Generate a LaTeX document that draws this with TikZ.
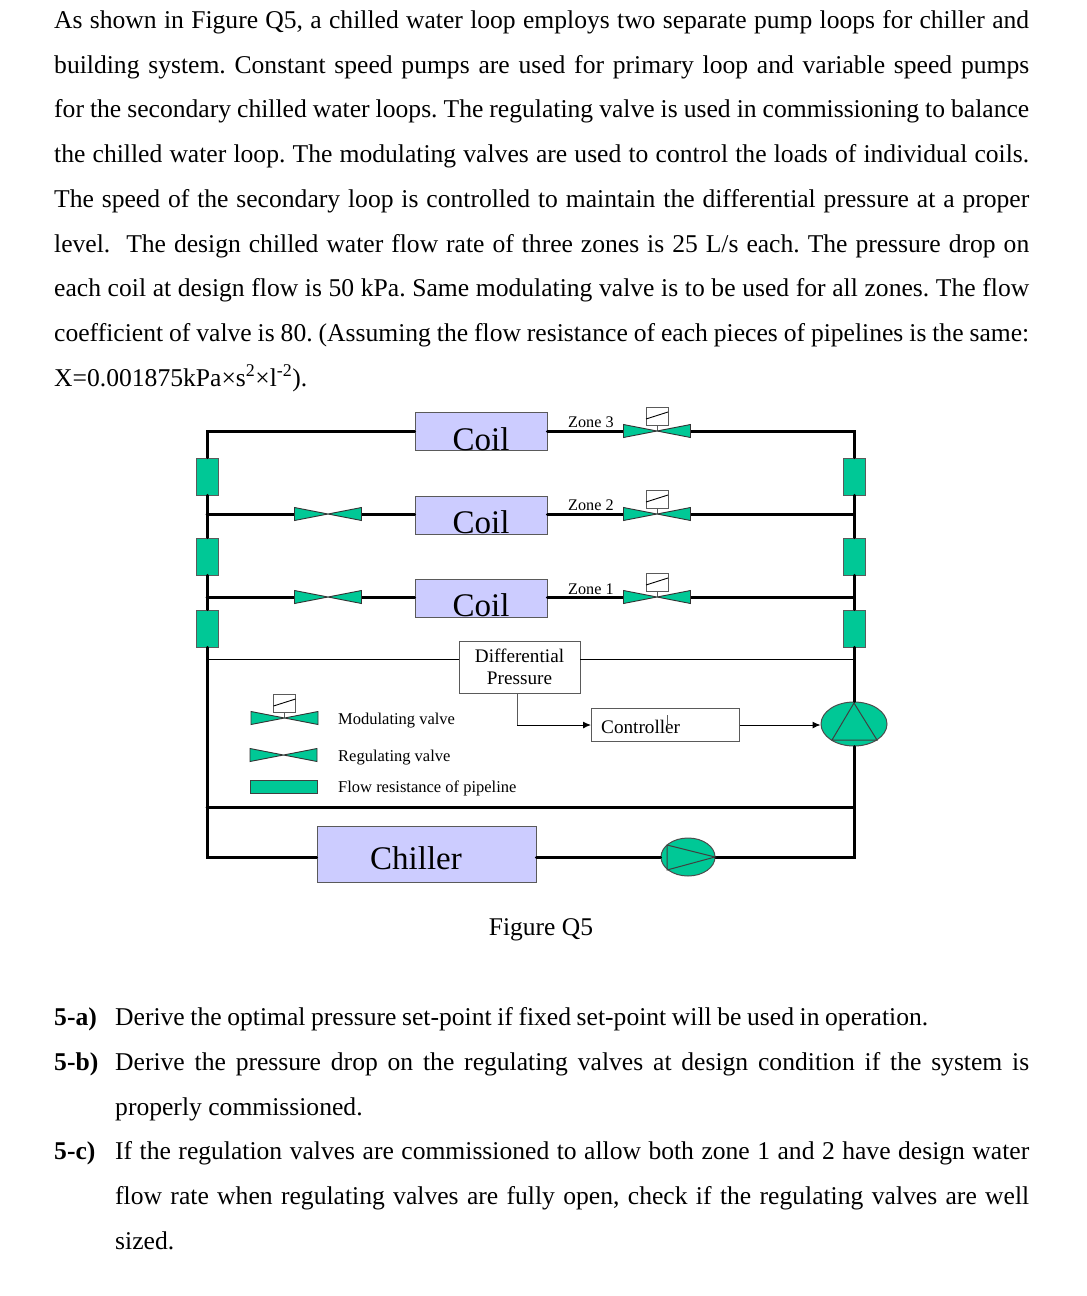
\documentclass[tikz,border=0pt]{standalone}
\usepackage{fontspec}
\setmainfont{Liberation Serif}
\usetikzlibrary{arrows.meta,shapes.geometric}
\definecolor{valvegreen}{HTML}{00C896}
\definecolor{coilblue}{HTML}{CCCCFF}
\definecolor{edgegray}{HTML}{5A5A5A}
\newcommand{\jline}[1]{\makebox[975pt][s]{\frenchspacing\spaceskip=0.25em plus 1fil minus 0.1em\relax #1}}
\newcommand{\jlineb}[1]{\makebox[914pt][s]{\frenchspacing\spaceskip=0.25em plus 1fil minus 0.1em\relax #1}}
\newcommand{\squeezeb}[1]{\makebox[813pt][s]{\frenchspacing\spaceskip=0.25em plus 1fil minus 0.1em\relax #1}}
\tikzset{
  x=1pt, y=-1pt,
  body/.style={anchor=base west, inner sep=0pt, font=\fontsize{25.6}{30}\selectfont},
  small/.style={inner sep=0pt, font=\fontsize{16.5}{18}\selectfont},
  zonelabel/.style={inner sep=0pt, anchor=west, font=\fontsize{16.2}{18}\selectfont},
  big/.style={inner sep=0pt, font=\fontsize{33}{36}\selectfont, anchor=base},
  pipe/.style={line width=3pt, black, line cap=round},
  thin pipe/.style={line width=1pt, black},
  signal/.style={line width=1pt, black, -{Latex[length=8pt,width=7pt]}},
  coilbox/.style={draw=edgegray, line width=0.9pt, fill=coilblue, minimum width=132pt, minimum height=38pt, inner sep=0pt},
  resist/.style={draw=edgegray, line width=0.9pt, fill=valvegreen, minimum width=22pt, minimum height=37pt, inner sep=0pt},
  whitebox/.style={draw=edgegray, line width=0.9pt, fill=white, inner sep=0pt, font=\fontsize{19.2}{21.5}\selectfont, align=center},
  valvespot/.style={minimum width=67pt, minimum height=14pt, inner sep=0pt},
  greenshape/.style={draw=black!80, line width=0.9pt, fill=valvegreen},
  actuator/.style={draw=edgegray, line width=0.9pt, fill=white},
  regvalve/.pic={
    \draw[greenshape] (-33.5,-6.5) -- (33.5,6.5) -- (33.5,-6.5) -- (-33.5,6.5) -- cycle;
  },
  modvalve/.pic={
    \draw[line width=1pt, edgegray] (0,0) -- (0,-7);
    \draw[actuator] (-11,-24) rectangle (11,-6);
    \draw[line width=0.9pt, black] (-11,-12) -- (11,-19);
    \draw[greenshape] (-33.5,-6.5) -- (33.5,6.5) -- (33.5,-6.5) -- (-33.5,6.5) -- cycle;
  }
}
\begin{document}
\begin{tikzpicture}
\useasboundingbox (0,0) rectangle (1087,1296);
% paragraph
\node[body] (l1) at (54,28) {\jline{As shown in Figure Q5, a chilled water loop employs two separate pump loops for chiller and}};
\node[body] (l2) at (54,73) {\jline{building system. Constant speed pumps are used for primary loop and variable speed pumps}};
\node[body] (l3) at (54,117) {\jline{for the secondary chilled water loops. The regulating valve is used in commissioning to balance}};
\node[body] (l4) at (54,162) {\jline{the chilled water loop. The modulating valves are used to control the loads of individual coils.}};
\node[body] (l5) at (54,207) {\jline{The speed of the secondary loop is controlled to maintain the differential pressure at a proper}};
\node[body] (l6) at (54,252) {\jline{level.\ \ The design chilled water flow rate of three zones is 25 L/s each. The pressure drop on}};
\node[body] (l7) at (54,296) {\jline{each coil at design flow is 50 kPa. Same modulating valve is to be used for all zones. The flow}};
\node[body] (l8) at (54,341) {\jline{coefficient of valve is 80. (Assuming the flow resistance of each pieces of pipelines is the same:}};
\node[body] (l9) at (54,386) {X=0.001875kPa×s\textsuperscript{2}×l\textsuperscript{-2}).};
% junctions
\coordinate (tl) at (207,431);
\coordinate (tr) at (854,431);
\coordinate (ml) at (207,514);
\coordinate (mr) at (854,514);
\coordinate (nl) at (207,597);
\coordinate (nr) at (854,597);
\coordinate (dl) at (207,659);
\coordinate (dr) at (854,659);
\coordinate (hl) at (207,807);
\coordinate (hr) at (854,807);
\coordinate (bl) at (207,857);
\coordinate (br) at (854,857);
\coordinate (dpdrop) at (517,725);
% coils
\node[coilbox] (coil3) at (481,431.5) {};
\node[coilbox] (coil2) at (481,515) {};
\node[coilbox] (coil1) at (481,598) {};
\node[big] (coil3t) at (481,450.5) {Coil};
\node[big] (coil2t) at (481,533.5) {Coil};
\node[big] (coil1t) at (481,616.5) {Coil};
% resistances
\node[resist] (rl3) at (207,476.5) {};
\node[resist] (rl2) at (207,556.5) {};
\node[resist] (rl1) at (207,628.5) {};
\node[resist] (rr3) at (854,476.5) {};
\node[resist] (rr2) at (854,556.5) {};
\node[resist] (rr1) at (854,628.5) {};
% valves
\node[valvespot] (mv3) at (657,431) {};
\node[valvespot] (mv2) at (657,514) {};
\node[valvespot] (mv1) at (657,597) {};
\node[valvespot] (rv2) at (328,514) {};
\node[valvespot] (rv1) at (328,597) {};
% other units
\node[whitebox, minimum width=121pt, minimum height=52pt] (dp) at (519.5,667) {Differential\\Pressure};
\node[whitebox, minimum width=148pt, minimum height=33pt, anchor=west] (ctrl) at (591,725) {};
\node[inner sep=0pt, anchor=west, font=\fontsize{19.2}{21.5}\selectfont] (ctrlt) at (601,727) {Controller};
\draw[line width=1pt, edgegray] (667.5,715) -- (667.5,733);
\node[draw=black!70, line width=1pt, fill=valvegreen, ellipse, minimum width=66pt, minimum height=44pt, inner sep=0pt] (secpump) at (854,724) {};
\node[draw=edgegray, line width=0.9pt, fill=coilblue, minimum width=219pt, minimum height=56pt, inner sep=0pt] (chiller) at (426.5,854) {};
\node[big] (chillert) at (416,869) {Chiller};
\node[draw=black!70, line width=1pt, fill=valvegreen, ellipse, minimum width=54pt, minimum height=38pt, inner sep=0pt] (primpump) at (688,857) {};
% pipes
\draw[pipe] (ml) -- (rv2.west);
\draw[pipe] (rv2.east) -- (coil2.west |- rv2.east);
\draw[pipe] (nl) -- (rv1.west);
\draw[pipe] (rv1.east) -- (coil1.west |- rv1.east);
\draw[pipe] (rl3.north) -- (tl) -- (coil3.west |- tl);
\draw[pipe] (coil3.east |- tl) -- (mv3.west);
\draw[pipe] (mv3.east) -- (tr) -- (rr3.north);
\draw[pipe] (coil2.east |- mv2) -- (mv2.west);
\draw[pipe] (mv2.east) -- (mr);
\draw[pipe] (coil1.east |- mv1) -- (mv1.west);
\draw[pipe] (mv1.east) -- (nr);
\draw[pipe] (rl3.south) -- (rl2.north);
\draw[pipe] (rl2.south) -- (rl1.north);
\draw[pipe] (rr3.south) -- (rr2.north);
\draw[pipe] (rr2.south) -- (rr1.north);
\draw[pipe] (rl1.south) -- (bl) -- (chiller.west |- bl);
\draw[pipe] (chiller.east |- bl) -- (primpump.west);
\draw[pipe] (primpump.east) -- (br) -- (secpump.south);
\draw[pipe] (secpump.north) -- (rr1.south);
\draw[pipe] (hl) -- (hr);
\draw[thin pipe] (dl) -- (dp.west |- dl);
\draw[thin pipe] (dp.east |- dr) -- (dr);
\draw[line width=1pt, edgegray] (dp.south -| dpdrop) -- (dpdrop);
\draw[signal] (dpdrop) -- (ctrl.west);
\draw[signal] (ctrl.east) -- (ctrl.east -| secpump.west);
% pump triangles
\draw[line width=1pt, black!75] (854,703) -- (832,740) -- (877,740) -- cycle;
\draw[line width=1pt, black!75] (667,845) -- (715,857) -- (667,870) -- cycle;
% valve symbols
\pic at (rv2) {regvalve};
\pic at (rv1) {regvalve};
\pic at (mv3) {modvalve};
\pic at (mv2) {modvalve};
\pic at (mv1) {modvalve};
% zone labels
\node[zonelabel] (z3) at (568,422) {Zone 3};
\node[zonelabel] (z2) at (568,505) {Zone 2};
\node[zonelabel] (z1) at (568,589) {Zone 1};
% legend
\coordinate (legm) at (284.5,718);
\coordinate (legr) at (283.5,755);
\pic at (legm) {modvalve};
\pic at (legr) {regvalve};
\node[draw=black!75, line width=0.9pt, fill=valvegreen, minimum width=67pt, minimum height=13pt, inner sep=0pt] (legf) at (283.5,786.5) {};
\node[small, anchor=west] (legmt) at (338,720.5) {Modulating valve};
\node[small, anchor=west] (legrt) at (338,757.5) {Regulating valve};
\node[small, anchor=west] (legft) at (338,788.5) {Flow resistance of pipeline};
% caption
\node[inner sep=0pt, font=\fontsize{25.5}{30}\selectfont] (cap) at (541,930) {Figure Q5};
% questions
\node[body, font=\fontsize{25.6}{30}\bfseries\selectfont] (qa) at (54,1025) {5-a)};
\node[body] (qat) at (115,1025) {\squeezeb{Derive the optimal pressure set-point if fixed set-point will be used in operation.}};
\node[body, font=\fontsize{25.6}{30}\bfseries\selectfont] (qb) at (54,1070) {5-b)};
\node[body] (qbt) at (115,1070) {\jlineb{Derive the pressure drop on the regulating valves at design condition if the system is}};
\node[body] (qbu) at (115,1115) {properly commissioned.};
\node[body, font=\fontsize{25.6}{30}\bfseries\selectfont] (qc) at (54,1159) {5-c)};
\node[body] (qct) at (115,1159) {\jlineb{If the regulation valves are commissioned to allow both zone 1 and 2 have design water}};
\node[body] (qcu) at (115,1204) {\jlineb{flow rate when regulating valves are fully open, check if the regulating valves are well}};
\node[body] (qcv) at (115,1249) {sized.};
\end{tikzpicture}
\end{document}
